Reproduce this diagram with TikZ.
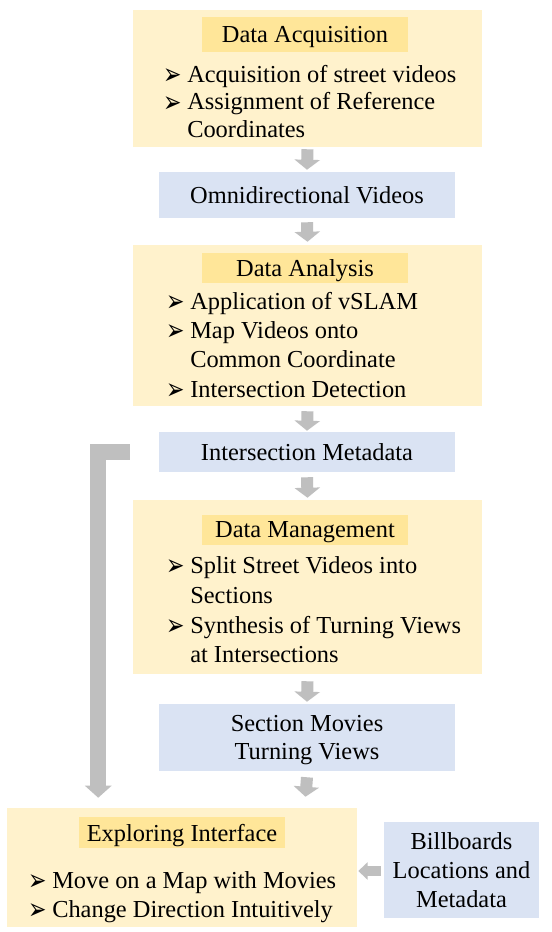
\documentclass[tikz,border=0pt]{standalone}
\usepackage{fontspec}
\usepackage{graphicx}
\setmainfont{Liberation Serif}
\newfontfamily\dingfont{DejaVu Sans}
\usetikzlibrary{arrows.meta,calc}
\definecolor{yboxc}{HTML}{FFF2CC}
\definecolor{yheadc}{HTML}{FFE699}
\definecolor{bboxc}{HTML}{DAE3F3}
\definecolor{agrayc}{HTML}{BFBFBF}
\newcommand\bul{\llap{\makebox[18pt][l]{\raisebox{-2pt}{\scalebox{1}[1.35]{\dingfont\fontsize{16.5}{16.5}\selectfont ➢}}}}}
\begin{document}
\begin{tikzpicture}[x=0.75pt,y=-0.75pt,
  every node/.style={inner sep=0pt, text=black, font=\fontsize{18.3}{21.6}\selectfont},
  stagebox/.style={fill=yboxc, minimum width=261.75pt},
  headbox/.style={fill=yheadc, minimum width=154.5pt, text depth=0pt},
  databox/.style={fill=bboxc, align=center, text depth=0pt},
  itemtext/.style={anchor=base west},
  downarrow/.style={draw=agrayc, line width=9pt, -{Triangle[width=18.75pt,length=7.5pt]}},
  backarrow/.style={draw=agrayc, line width=12pt, line join=miter, -{Triangle[width=19.5pt,length=9pt]}},
  sidearrow/.style={draw=agrayc, line width=7pt, -{Triangle[width=12.75pt,length=7pt]}}
]
\fill[white] (0,0) rectangle (551,932);
\useasboundingbox (0,0) rectangle (551,932);

% Data Acquisition
\node[stagebox, minimum height=102.75pt] (acq) at (307.5,78.5) {};
\node[headbox, minimum height=26.25pt] (acqT) at (305,34.5) {Data Acquisition};
\node[itemtext] (acqL1) at (187,82) {\bul Acquisition of street videos};
\node[itemtext] (acqL2) at (187,109.5) {\bul Assignment of Reference};
\node[itemtext] (acqL3) at (187,137) {Coordinates};

% Omnidirectional videos
\node[databox, minimum width=222pt, minimum height=34.5pt] (omni) at (307,195) {Omnidirectional Videos};

% Data Analysis
\node[stagebox, minimum height=120.75pt] (ana) at (307.5,325.5) {};
\node[headbox, minimum height=22.5pt] (anaT) at (305,268) {Data Analysis};
\node[itemtext] (anaL1) at (190,309) {\bul Application of vSLAM};
\node[itemtext] (anaL2) at (190,338) {\bul Map Videos onto};
\node[itemtext] (anaL3) at (190,367) {Common Coordinate};
\node[itemtext] (anaL4) at (190,397) {\bul Intersection Detection};

% Intersection Metadata
\node[databox, minimum width=222pt, minimum height=30pt] (imeta) at (307,452) {Intersection Metadata};

% Data Management
\node[stagebox, minimum height=130.5pt] (man) at (307.5,587) {};
\node[headbox, minimum height=22.5pt] (manT) at (305,530) {Data Management};
\node[itemtext] (manL1) at (190,573) {\bul Split Street Videos into};
\node[itemtext] (manL2) at (190,603) {Sections};
\node[itemtext] (manL3) at (190,633) {\bul Synthesis of Turning Views};
\node[itemtext] (manL4) at (190,662) {at Intersections};

% Section Movies
\node[databox, minimum width=222pt, minimum height=50.25pt, font=\fontsize{18.3}{21}\selectfont] (secm) at (307,737.5) {Section Movies\\Turning Views};

% Exploring Interface
\node[stagebox, minimum width=262.5pt, minimum height=89.25pt] (expl) at (182,867.5) {};
\node[headbox, minimum height=23.25pt] (explT) at (182,832.5) {Exploring Interface};
\node[itemtext] (explL1) at (52,888) {\bul Move on a Map with Movies};
\node[itemtext] (explL2) at (52,917) {\bul Change Direction Intuitively};

% Billboards
\node[databox, minimum width=116.25pt, minimum height=72pt, font=\fontsize{18.3}{21.4}\selectfont] (bill) at (461.5,870) {Billboards\\Locations and\\Metadata};

% Arrows
\draw[downarrow] ([yshift=-1.5pt]acq.south) -- ([yshift=1.5pt]omni.north);
\draw[downarrow] ([yshift=-3pt]omni.south) -- ([yshift=2.25pt]ana.north);
\draw[downarrow] ([yshift=-3.75pt]ana.south) -- ([yshift=0.75pt]imeta.north);
\draw[downarrow] ([yshift=-3.75pt]imeta.south) -- ([yshift=1.5pt]man.north);
\draw[downarrow] ([yshift=-5.25pt]man.south) -- ([yshift=1.5pt]secm.north);
\coordinate (explIn) at ($(expl.north)+(123.5,-11)$);
\draw[downarrow] ([yshift=-4.5pt]secm.south) -- (explIn);
\coordinate (backEnd) at ($(expl.north west)+(91.5,-10)$);
\draw[backarrow] ([xshift=-21.75pt]imeta.west) -| (backEnd);
\draw[sidearrow] ([xshift=-2.25pt,yshift=-0.75pt]bill.west) -- ([xshift=0.75pt,yshift=-0.75pt]bill.west -| expl.east);
\end{tikzpicture}
\end{document}
